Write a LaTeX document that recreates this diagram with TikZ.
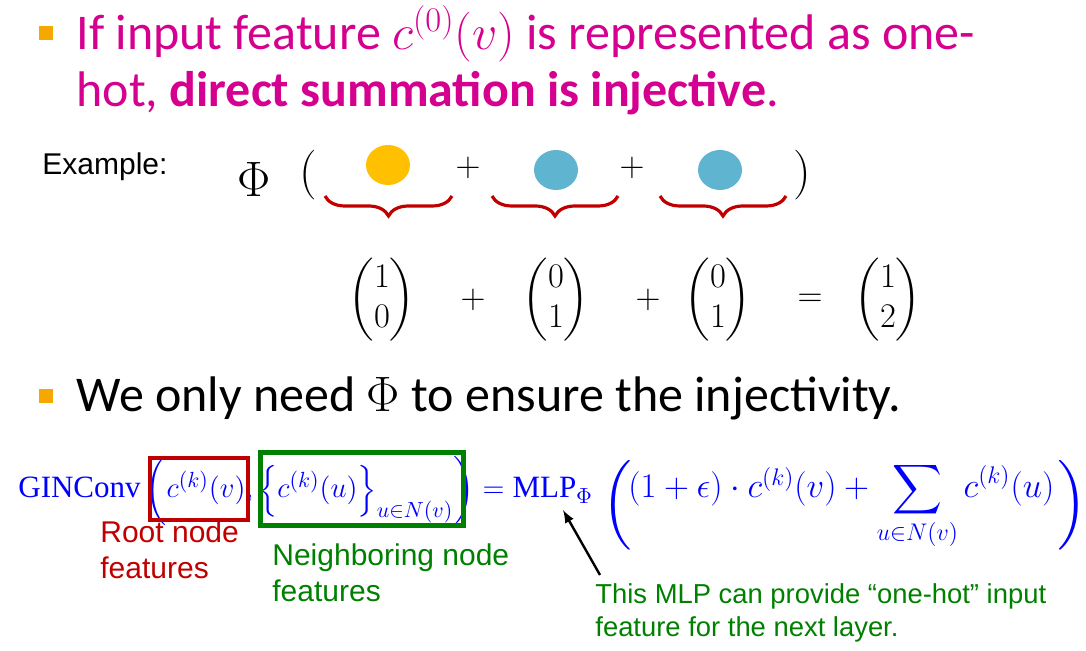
\documentclass[tikz,border=0pt]{standalone}
\usepackage{fontspec}
\setmainfont{Carlito}
\newfontfamily\arial{Liberation Sans}
\newfontfamily\tnr{Liberation Serif}
\usepackage{amsmath}
\usetikzlibrary{decorations.pathreplacing,shapes.geometric}
\definecolor{mag}{HTML}{D5008F}
\definecolor{bul}{HTML}{F5A800}
\definecolor{yel}{HTML}{FFC000}
\definecolor{blu}{HTML}{5FB4CF}
\definecolor{dred}{HTML}{C00000}
\definecolor{dgreen}{HTML}{008000}
\definecolor{fblue}{HTML}{0000FF}
\newcommand{\rmtxt}[1]{\text{\tnr #1}}
\begin{document}
\begin{tikzpicture}[x=0.5pt,y=-0.5pt,
  bullet/.style={fill=bul,minimum size=7pt,inner sep=0pt},
  dot/.style={ellipse,minimum width=22pt,minimum height=20pt,inner sep=0pt},
  big/.style={font=\fontsize{25}{30}\selectfont,inner sep=0pt,anchor=base west},
  brc/.style={draw=dred,line width=1.6pt,decorate,decoration={brace,mirror,amplitude=10pt}},
  vec/.style={font=\fontsize{17}{20}\selectfont,inner sep=0pt},
  form/.style={text=fblue,inner sep=0pt,anchor=base west},
  lab/.style={font=\arial\fontsize{15}{18}\selectfont,align=left,inner sep=0pt,anchor=north west}]
\useasboundingbox (0,0) rectangle (1086,651);
\node[bullet] (b1) at (46,33) {};
\node[big,text=mag] (l1) at (76,50) {If input feature $c^{(0)}(v)$ is represented as one-};
\node[big,text=mag] (l2) at (76,107) {hot, \textbf{direct summation is injective}.};
\node[font=\arial\fontsize{15}{18}\selectfont,anchor=base west,inner sep=0pt] (ex) at (42,175) {Example:};
\node[font=\fontsize{32}{36}\selectfont,inner sep=0pt] (phi) at (254,180) {$\Phi$};
\node[font=\fontsize{48}{50}\selectfont,inner sep=0pt] (lp) at (308,175) {$($};
\node[font=\fontsize{48}{50}\selectfont,inner sep=0pt] (rp) at (802,175) {$)$};
\node[dot,fill=yel] (d1) at (388,165) {};
\node[dot,fill=blu] (d2) at (556,170) {};
\node[dot,fill=blu] (d3) at (720,170) {};
\node[vec] (p1) at (468,168) {$+$};
\node[vec] (p2) at (632,168) {$+$};
\coordinate (a1) at (325,196); \coordinate (a2) at (452,196);
\coordinate (a3) at (492,196); \coordinate (a4) at (618,196);
\coordinate (a5) at (660,196); \coordinate (a6) at (786,196);
\draw[brc] (a1) -- (a2);
\draw[brc] (a3) -- (a4);
\draw[brc] (a5) -- (a6);
\node[vec] (v1) at (382,300) {$\begin{pmatrix}1\\0\end{pmatrix}$};
\node[vec] (q1) at (473,300) {$+$};
\node[vec] (v2) at (556,300) {$\begin{pmatrix}0\\1\end{pmatrix}$};
\node[vec] (q2) at (648,300) {$+$};
\node[vec] (v3) at (718,300) {$\begin{pmatrix}0\\1\end{pmatrix}$};
\node[vec] (q3) at (810,300) {$=$};
\node[vec] (v4) at (888,300) {$\begin{pmatrix}1\\2\end{pmatrix}$};
\node[bullet] (b2) at (46,396) {};
\node[big] (l3) at (76,412) {We only need $\Phi$ to ensure the injectivity.};
\node[form,font=\fontsize{15.5}{18}\selectfont] (f1) at (18,498) {$\rmtxt{GINConv}\left(c^{(k)}(v),\left\{c^{(k)}(u)\right\}_{u\in N(v)}\right)=\rmtxt{MLP}_\Phi$};
\node[font=\fontsize{60}{60}\selectfont,text=fblue,inner sep=0pt] (bl) at (617,505) {$\Big($};
\node[form,font=\fontsize{16.5}{19}\selectfont] (f2) at (628,498) {$(1+\epsilon)\cdot c^{(k)}(v)+\displaystyle\sum_{u\in N(v)}c^{(k)}(u)$};
\node[font=\fontsize{60}{60}\selectfont,text=fblue,inner sep=0pt] (br) at (1072,505) {$\Big)$};
\draw[dred,line width=2pt] (150,458) rectangle (248,520);
\draw[dgreen,line width=2.5pt] (260,453) rectangle (463,525);
\node[lab,text=dred] (r) at (100,520) {Root node\\features};
\node[lab,text=dgreen] (n) at (272,543) {Neighboring node\\features};
\node[lab,text=dgreen,font=\arial\fontsize{13.7}{16.5}\selectfont] (t) at (595,583) {This MLP can provide “one-hot” input\\feature for the next layer.};
\coordinate (ae) at (563,510);
\draw[-latex,line width=1.2pt] (600,575) -- (ae);
\end{tikzpicture}
\end{document}
